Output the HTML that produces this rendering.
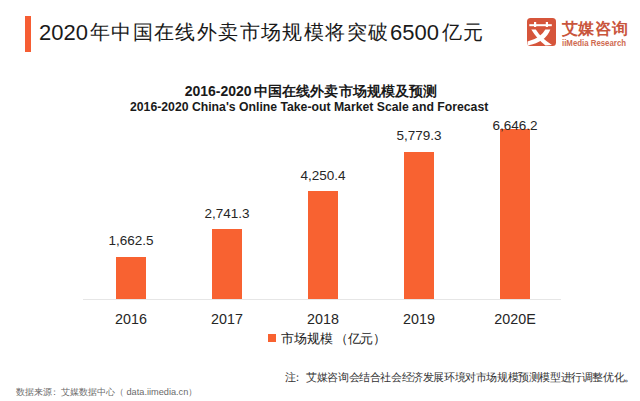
<!DOCTYPE html>
<html><head><meta charset="utf-8">
<style>
html,body{margin:0;padding:0;background:#fff;}
body{width:640px;height:401px;position:relative;overflow:hidden;font-family:"Liberation Sans",sans-serif;color:#222;}
.a{position:absolute;white-space:nowrap;line-height:1;}
.hbar{position:absolute;left:25px;top:16px;width:6px;height:36px;background:#f65d33;}
.td{top:21.5px;font-size:22px;color:#1a1a1a;}
.tc{top:23px;font-size:19.5px;letter-spacing:1.4px;color:#1a1a1a;}
.logo{position:absolute;left:527px;top:18px;}
.logo-cn{left:561.5px;top:20.8px;font-size:16px;letter-spacing:0.9px;font-weight:bold;color:#c9553c;}
.logo-en{left:562.2px;top:38px;font-size:9.8px;font-weight:bold;color:#cf6a50;transform:scaleX(0.80);transform-origin:0 0;}
.ct1d{left:184.7px;top:84px;font-size:14px;font-weight:bold;color:#1a1a1a;}
.ct1c{left:253.7px;top:84px;font-size:14px;font-weight:bold;letter-spacing:0.15px;color:#1a1a1a;}
.ct2{left:130px;top:100px;font-size:13px;font-weight:bold;color:#1a1a1a;transform:scaleX(0.941);transform-origin:0 0;}
.bar{position:absolute;width:30px;background:#f86231;}
.axis{position:absolute;left:83px;top:299px;width:478px;height:1px;background:#e6e6e6;}
.val{width:96px;text-align:center;font-size:13.5px;margin-top:0.3px;color:#262626;}
.yr{width:96px;text-align:center;font-size:14.3px;top:311.5px;color:#262626;}
.lg-sq{position:absolute;left:268px;top:333.5px;width:8px;height:8px;background:#f86231;}
.lg{left:281px;top:333px;font-size:12.5px;color:#222;}
.note{left:285px;top:372px;font-size:10.6px;letter-spacing:-0.4px;color:#333;}
.src{left:16px;top:388px;font-size:9.2px;color:#6a6a6a;}
</style></head>
<body>
<div class="hbar"></div>
<div class="a td" style="left:39px">2020</div>
<div class="a tc" style="left:89.8px">年中国在线外卖市场规模将突破</div>
<div class="a td" style="left:390px">6500</div>
<div class="a tc" style="left:442px">亿元</div>

<svg class="logo" width="29" height="29" viewBox="0 0 29 29">
<rect x="0" y="0" width="29" height="28" rx="3.5" fill="#d6553b"/>
<rect x="2.3" y="6.2" width="22.5" height="2" fill="#fff"/>
<rect x="7" y="4" width="2.2" height="5" fill="#fff"/>
<rect x="18.8" y="4" width="2.2" height="5" fill="#fff"/>
<path d="M4.3 11.5 L8.8 11.5 Q14 20 25 27 L18.5 27.5 Q10 21 4.3 11.5Z" fill="#fff"/>
<path d="M18.3 11.5 L23.3 11.5 Q19 24 0.5 27.5 L0.5 23.5 Q14 20 18.3 11.5Z" fill="#fff"/>
</svg>
<div class="a logo-cn">艾媒咨询</div>
<div class="a logo-en">iiMedia Research</div>

<div class="a ct1d">2016-2020</div>
<div class="a ct1c">中国在线外卖市场规模及预测</div>
<div class="a ct2">2016-2020 China's Online Take-out Market Scale and Forecast</div>

<div class="axis"></div>
<div class="bar" style="left:116px;top:257px;height:42px"></div>
<div class="bar" style="left:212px;top:229px;height:70px"></div>
<div class="bar" style="left:308px;top:191px;height:108px"></div>
<div class="bar" style="left:404px;top:152px;height:147px"></div>
<div class="bar" style="left:500px;top:129px;height:170px"></div>

<div class="a val" style="left:83px;top:234px">1,662.5</div>
<div class="a val" style="left:179px;top:207px">2,741.3</div>
<div class="a val" style="left:275px;top:168.5px">4,250.4</div>
<div class="a val" style="left:371px;top:129px">5,779.3</div>
<div class="a val" style="left:467px;top:119px">6,646.2</div>

<div class="a yr" style="left:83px">2016</div>
<div class="a yr" style="left:179px">2017</div>
<div class="a yr" style="left:275px">2018</div>
<div class="a yr" style="left:371px">2019</div>
<div class="a yr" style="left:467px">2020E</div>

<div class="lg-sq"></div>
<div class="a lg">市场规模<span style="margin-left:2px;letter-spacing:-0.4px">（亿元）</span></div>

<div class="a note">注<span style="position:relative;left:-3.5px">：</span>艾媒咨询会结合社会经济发展环境对市场规模预测模型进行调整优化。</div>
<div class="a src">数据来源<span style="position:relative;left:-2px">：</span>艾媒数据中心（<span style="margin-left:2.5px">data.iimedia.cn</span>）</div>
</body></html>
